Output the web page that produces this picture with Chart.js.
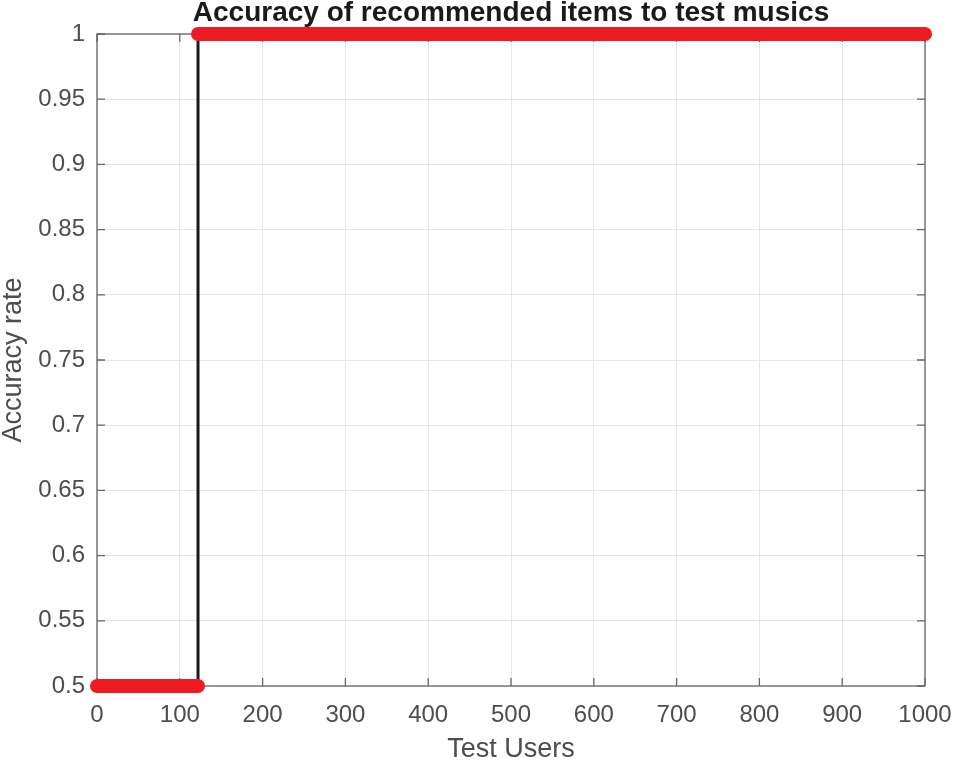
<!DOCTYPE html>
<html>
<head>
<meta charset="utf-8">
<script src="https://cdn.jsdelivr.net/npm/chart.js@4"></script>
<style>
  html, body { margin: 0; padding: 0; background: #ffffff; overflow: hidden; }
  #wrap { width: 955px; height: 763px; position: relative; }
  canvas { display: block; }
</style>
</head>
<body>
<div id="wrap"><canvas id="c"></canvas></div>
<script>
// ---- data ----
const titleText = 'Accuracy of recommended items to test musics';
const xTitle = 'Test Users';
const yTitle = 'Accuracy rate';
const xTicks = [0, 100, 200, 300, 400, 500, 600, 700, 800, 900, 1000];
const yTicks = [0.5, 0.55, 0.6, 0.65, 0.7, 0.75, 0.8, 0.85, 0.9, 0.95, 1];
// accuracy curve (black step line)
const curveX = [0, 122, 122, 1000];
const curveY = [0.5, 0.5, 1, 1];
// red marker runs: users with low accuracy, users with full accuracy
const lowRunX = [0, 122];
const lowRunY = [0.5, 0.5];
const highRunX = [122, 1000];
const highRunY = [1, 1];

const toPts = (xs, ys) => xs.map((x, i) => ({ x: x, y: ys[i] }));

const FONT = "'Liberation Sans', Arial, Helvetica, sans-serif";
const TICK_COLOR = '#4d4d4d';
const AXIS_COLOR = '#666666';

const boxPlugin = {
  id: 'matlabBox',
  beforeDatasetsDraw(chart) {
    const { ctx, chartArea: a, scales } = chart;
    ctx.save();
    ctx.strokeStyle = AXIS_COLOR;
    ctx.lineWidth = 1.3;
    ctx.strokeRect(a.left, a.top, a.right - a.left, a.bottom - a.top);
    const tl = 8;
    ctx.beginPath();
    xTicks.forEach(v => {
      const px = scales.x.getPixelForValue(v);
      ctx.moveTo(px, a.bottom); ctx.lineTo(px, a.bottom - tl);
      ctx.moveTo(px, a.top); ctx.lineTo(px, a.top + tl);
    });
    yTicks.forEach(v => {
      const py = scales.y.getPixelForValue(v);
      ctx.moveTo(a.left, py); ctx.lineTo(a.left + tl, py);
      ctx.moveTo(a.right, py); ctx.lineTo(a.right - tl, py);
    });
    ctx.stroke();
    ctx.restore();
  },
  afterDraw(chart) {
    const { ctx, chartArea: a } = chart;
    ctx.save();
    ctx.fillStyle = '#1a1a1a';
    ctx.font = "bold 28px " + FONT;
    ctx.textAlign = 'center';
    ctx.textBaseline = 'alphabetic';
    ctx.fillText(titleText, (a.left + a.right) / 2, 21);
    ctx.restore();
  }
};

new Chart(document.getElementById('c'), {
  type: 'line',
  data: {
    datasets: [
      {
        label: 'low',
        data: toPts(lowRunX, lowRunY),
        borderColor: '#ED1C24',
        borderWidth: 14,
        borderCapStyle: 'round',
        pointRadius: 0,
        fill: false,
        clip: false,
        order: 0
      },
      {
        label: 'high',
        data: toPts(highRunX, highRunY),
        borderColor: '#ED1C24',
        borderWidth: 14,
        borderCapStyle: 'round',
        pointRadius: 0,
        fill: false,
        clip: false,
        order: 0
      },
      {
        label: 'accuracy',
        data: toPts(curveX, curveY),
        borderColor: '#1a1a1a',
        borderWidth: 3,
        pointRadius: 0,
        fill: false,
        tension: 0,
        clip: false,
        order: 1
      }
    ]
  },
  options: {
    responsive: true,
    maintainAspectRatio: false,
    animation: false,
    layout: { padding: { left: 0, right: 30, top: 34, bottom: 0 } },
    plugins: {
      legend: { display: false },
      tooltip: { enabled: false },
      title: { display: false }
    },
    scales: {
      x: {
        type: 'linear',
        min: 0, max: 1000,
        afterBuildTicks(s) { s.ticks = xTicks.map(v => ({ value: v })); },
        afterFit(s) { s.height = 77; s.paddingRight = 0; s.paddingLeft = 0; },
        ticks: {
          color: TICK_COLOR,
          font: { family: FONT, size: 24 },
          padding: 15,
          maxRotation: 0,
          autoSkip: false,
          callback: v => String(v)
        },
        grid: { color: '#e6e6e6', lineWidth: 1, drawTicks: false },
        border: { display: false },
        title: {
          display: true,
          text: xTitle,
          color: TICK_COLOR,
          font: { family: FONT, size: 27, lineHeight: 1 },
          padding: { top: 0, bottom: 0 }
        }
      },
      y: {
        type: 'linear',
        min: 0.5, max: 1,
        afterBuildTicks(s) { s.ticks = yTicks.map(v => ({ value: v })); },
        afterFit(s) { s.width = 97; s.paddingTop = 0; s.paddingBottom = 0; },
        ticks: {
          color: TICK_COLOR,
          font: { family: FONT, size: 24 },
          padding: 12,
          autoSkip: false,
          callback: v => String(+Number(v).toFixed(2))
        },
        grid: { color: '#e6e6e6', lineWidth: 1, drawTicks: false },
        border: { display: false },
        title: {
          display: true,
          text: yTitle,
          color: TICK_COLOR,
          font: { family: FONT, size: 27, lineHeight: 1 },
          padding: { top: 0, bottom: 0 }
        }
      }
    }
  },
  plugins: [boxPlugin]
});
</script>
</body>
</html>
